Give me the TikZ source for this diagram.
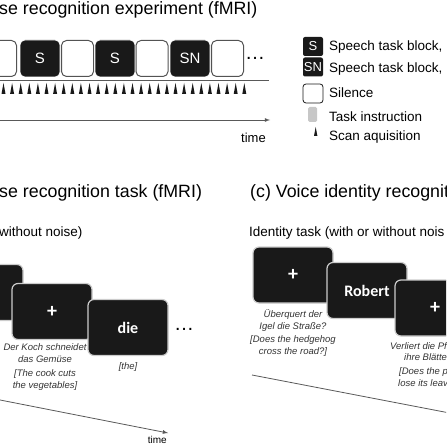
\documentclass[tikz,border=0pt]{standalone}
\usepackage{fontspec}
\setmainfont{Liberation Sans}[ItalicFont={Liberation Sans Italic}, BoldFont={Liberation Sans Bold}]
\newfontfamily\screenfont{Carlito}[BoldFont={Carlito Bold}]
\usepackage{tikz}
\definecolor{boxBlack}{rgb}{0.1, 0.1, 0.1}
\definecolor{lineGray}{rgb}{0.35, 0.35, 0.35}
\definecolor{cueGray}{rgb}{0.78, 0.78, 0.78}
\usetikzlibrary{positioning}
\tikzset{
  speechblock/.style={fill=boxBlack, draw=white, line width=0.6pt, rounded corners=5pt,
    minimum width=40pt, minimum height=37pt, inner sep=0pt, text=white,
    font=\fontsize{15}{15}\selectfont},
  silentblock/.style={fill=white, draw=boxBlack!75, line width=1pt, rounded corners=5pt,
    minimum width=32pt, minimum height=36pt, inner sep=0pt},
  screen/.style={fill=boxBlack, draw=white!80!black, line width=1.2pt, rounded corners=6pt,
    minimum width=80pt, minimum height=56pt, inner sep=0pt, text=white,
    font=\screenfont\bfseries\fontsize{16}{16}\selectfont},
  plus/.style={screen, font=\screenfont\bfseries\fontsize{20}{20}\selectfont},
  caption/.style={inner sep=0pt, align=center, text=black!80,
    font=\itshape\fontsize{9.5}{12}\selectfont},
  swatch/.style={fill=boxBlack, rounded corners=2pt, minimum width=20pt, minimum height=19pt,
    inner sep=0pt, text=white, font=\fontsize{13}{13}\selectfont},
  legendtext/.style={anchor=base west, inner sep=0pt, font=\fontsize{13.5}{13.5}\selectfont},
  heading/.style={anchor=base west, inner sep=0pt, font=\fontsize{17.8}{17.8}\selectfont},
  subheading/.style={anchor=base west, inner sep=0pt, font=\fontsize{13.5}{13.5}\selectfont},
}

\begin{document}
\begin{tikzpicture}[x=1pt, y=-1pt]
        \useasboundingbox (0, 0) rectangle (446, 446);
        \clip (0, 0) rectangle (446, 446);

        % (a) block design
        \node[heading] (titleA) at (-1, 15) {se recognition experiment (fMRI)};

        \node[silentblock] (silOne)   at (  0.5, 58.5) {};
        \node[speechblock] (speechOne) at ( 40  , 58.5) {S};
        \node[silentblock] (silTwo)   at ( 77.5, 58.5) {};
        \node[speechblock] (speechTwo) at (115  , 58.5) {S};
        \node[silentblock] (silThree) at (152  , 58.5) {};
        \node[speechblock] (noiseOne) at (190  , 58.5) {SN};
        \node[silentblock] (silFour)  at (227.5, 58.5) {};
        \node[anchor=base, inner sep=0pt, font=\fontsize{20}{20}\selectfont] (dotsA) at (255, 59.5) {…};

        \coordinate (railL) at (  0, 80);
        \coordinate (railR) at (269, 80);
        \draw[lineGray, line width=0.6pt] (railL) -- (railR);

        \foreach \k in {0,...,28}
            \fill[boxBlack] ({3.5+8.6*\k-2}, 94) -- ({3.5+8.6*\k}, 83) -- ({3.5+8.6*\k+2}, 94) -- cycle;

        \coordinate (timeAL) at ( -2, 120);
        \coordinate (timeAR) at (270, 120);
        \draw[lineGray, line width=0.8pt, -latex] (timeAL) -- (timeAR);
        \node[anchor=base east, inner sep=0pt, font=\fontsize{13}{13}\selectfont] (timeA) at (266, 143) {time};

        % legend
        \node[swatch] (legS)  at (313, 46.5) {S};
        \node[swatch] (legSN) at (313, 67) {SN};
        \node[swatch, fill=white, draw=boxBlack, line width=0.8pt, rounded corners=3pt] (legSil) at (313, 93.5) {};
        \node[swatch, fill=cueGray, rounded corners=1.5pt, minimum width=9pt, minimum height=15pt] (legCue) at (312.5, 114.5) {};
        \fill[boxBlack] (314, 136) -- (315.7, 127) -- (317.4, 136) -- cycle;

        \node[legendtext] (legSText)    at (329,  51) {Speech task block,};
        \node[legendtext] (legSNText)   at (329,  72.5) {Speech task block,};
        \node[legendtext] (legSilText)  at (329,  97.5) {Silence};
        \node[legendtext] (legCueText)  at (329, 121.5) {Task instruction};
        \node[legendtext] (legScanText) at (329, 140.5) {Scan aquisition};

        % (b) speech task
        \node[heading] (titleB) at (-1, 197) {se recognition task (fMRI)};
        \node[subheading] (taskB) at (-1, 236) {without noise)};

        \node[screen] (frameBOne)   at (-17, 292.5) {};
        \node[plus]   (frameBTwo)   at ( 52, 311.5) {+};
        \node[screen] (frameBThree) at (128, 327.5) {die};
        \node[anchor=base, inner sep=0pt, font=\fontsize{20}{20}\selectfont] (dotsB) at (184, 330) {…};

        \node[caption, anchor=north] (sentB)  at ( 45, 343) {Der Koch schneidet\\das Gemüse};
        \node[caption, anchor=north] (transB) at ( 45, 369) {[The cook cuts\\the vegetables]};
        \node[caption, anchor=north] (wordB)  at (128, 362) {[the]};

        \coordinate (timeBL) at ( -5, 399);
        \coordinate (timeBR) at (168, 433);
        \draw[lineGray, line width=0.8pt, -latex] (timeBL) -- (timeBR);
        \node[anchor=base east, inner sep=0pt, font=\fontsize{10}{10}\selectfont] (timeB) at (167, 443.5) {time};

        % (c) identity task
        \node[heading] (titleC) at (250, 197) {(c) Voice identity recognit};
        \node[subheading] (taskC) at (249, 236) {Identity task (with or without nois};

        \node[plus]   (frameCOne)   at (293, 275) {+};
        \node[screen] (frameCTwo)   at (367, 290.5) {Robert};
        \node[plus]   (frameCThree) at (435, 308) {+};

        \node[caption, anchor=north] (sentC)  at (293, 309) {Überquert der\\Igel die Straße?};
        \node[caption, anchor=north] (transC) at (293, 335) {[Does the hedgehog\\cross the road?]};
        \node[caption, anchor=north west] (sentDOne)  at (390, 342) {Verliert die Pf};
        \node[caption, anchor=north west] (sentDTwo)  at (404, 353) {ihre Blätte};
        \node[caption, anchor=north west] (transDOne) at (399, 367) {[Does the p};
        \node[caption, anchor=north west] (transDTwo) at (398, 379) {lose its leav};

        \coordinate (timeCL) at (252, 375);
        \coordinate (timeCR) at (460, 415);
        \draw[lineGray, line width=0.8pt] (timeCL) -- (timeCR);
    \end{tikzpicture}
\end{document}
